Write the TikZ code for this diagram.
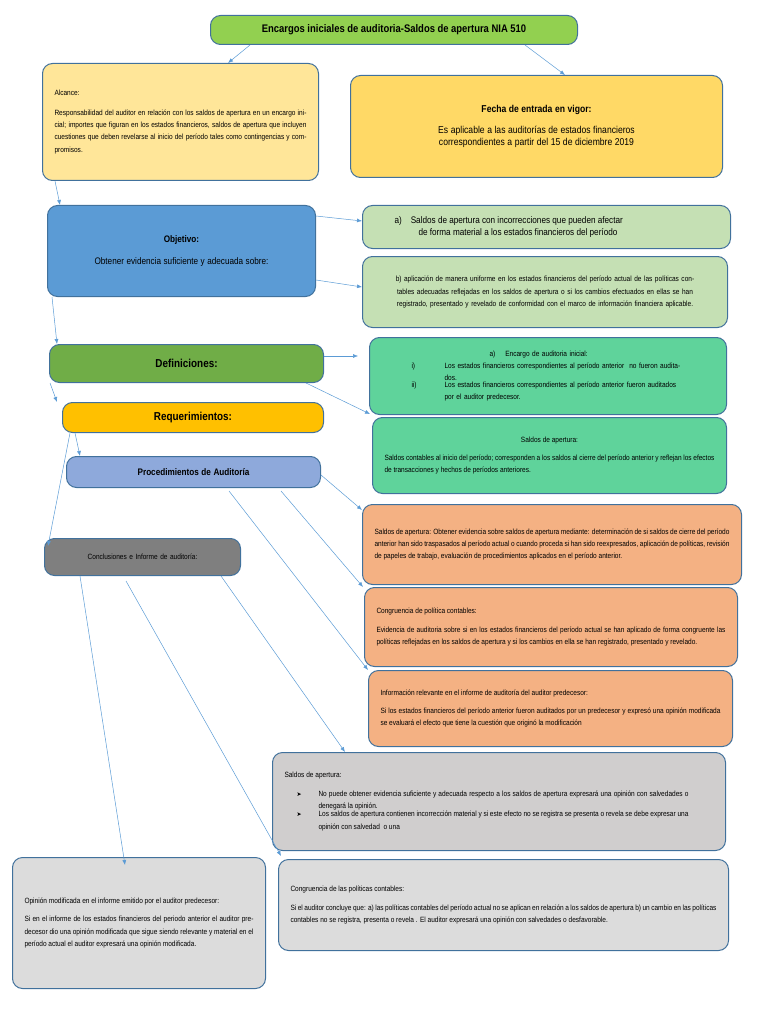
\documentclass[tikz,border=0pt]{standalone}
\usepackage{fontspec}
\setmainfont{Liberation Sans}[FakeStretch=0.86]
\newfontfamily\djv{DejaVu Sans}
\usetikzlibrary{arrows.meta}
\definecolor{arr}{HTML}{5B9BD5}
\definecolor{edge}{HTML}{41719C}
\definecolor{cTitle}{HTML}{92D050}
\definecolor{cAlc}{HTML}{FFE699}
\definecolor{cFecha}{HTML}{FFD966}
\definecolor{cObj}{HTML}{5B9BD5}
\definecolor{cLG}{HTML}{C5E0B4}
\definecolor{cDef}{HTML}{70AD47}
\definecolor{cTeal}{HTML}{5FD39B}
\definecolor{cReq}{HTML}{FFC000}
\definecolor{cProc}{HTML}{8EA9DB}
\definecolor{cConc}{HTML}{7F7F7F}
\definecolor{cOr}{HTML}{F4B183}
\definecolor{cG1}{HTML}{D0CECE}
\definecolor{cG2}{HTML}{DCDCDC}
\tikzset{
 box/.style={draw=edge,line width=1pt,rounded corners=10pt,anchor=north west,inner sep=0pt,font=\fontsize{7.6}{12.4}\selectfont,align=justify},
 conn/.style={draw=arr,line width=0.5pt,-{Latex[length=5pt,width=4pt]}}
}
\newcommand{\bx}[8]{% name, x1,y1,x2,y2, fill, align, text
 \pgfmathsetmacro\bw{#4-#2}\pgfmathsetmacro\bh{#5-#3}\pgfmathsetmacro\tw{#4-#2-24}%
 \node[box,fill=#6,minimum width=\bw pt,minimum height=\bh pt] (#1) at (#2,#3) {};
 \node[font=\fontsize{7.6}{12.4}\selectfont,text width=\tw pt,align=#7,inner sep=0pt] at (#1.center) {#8};}
\newcommand{\tri}{{\djv\fontsize{6}{8}\selectfont ➤}}
\begin{document}
\begin{tikzpicture}[x=1pt,y=-1pt]
\useasboundingbox (0,0) rectangle (768,1024);
\bx{title}{210}{15}{577}{44}{cTitle}{center}{\fontsize{11}{13}\selectfont\bfseries Encargos iniciales de auditoria-Saldos de apertura NIA 510}
\bx{alc}{42}{63}{318}{180}{cAlc}{justify}{Alcance:\\[7pt]Responsabilidad del auditor en relación con los saldos de apertura en un encargo inicial; importes que figuran en los estados financieros, saldos de apertura que incluyen cuestiones que deben revelarse al inicio del período tales como contingencias y compromisos.}
\bx{fecha}{350}{75}{722}{177}{cFecha}{center}{\fontsize{10}{13}\selectfont\textbf{Fecha de entrada en vigor:}\\[8pt]Es aplicable a las auditorías de estados financieros correspondientes a partir del 15 de diciembre 2019}
\bx{obj}{47}{205}{315}{296}{cObj}{center}{\fontsize{9.5}{12}\selectfont\textbf{Objetivo:}\\[9pt]Obtener evidencia suficiente y adecuada sobre:}
\bx{oa}{362}{205}{730}{248}{cLG}{justify}{\fontsize{9.5}{12.5}\selectfont\hspace*{20pt}a)\hspace{9pt}Saldos de apertura con incorrecciones que pueden afectar\\\hspace*{44pt}de forma material a los estados financieros del período}
\bx{ob}{362}{256}{727}{327}{cLG}{center}{b) aplicación de manera uniforme en los estados financieros del período actual de las políticas contables adecuadas reflejadas en los saldos de apertura o si los cambios efectuados en ellas se han registrado, presentado y revelado de conformidad con el marco de información financiera aplicable.}
\bx{def}{49}{344}{323}{382}{cDef}{center}{\fontsize{11.5}{13}\selectfont\bfseries Definiciones:}
\bx{da}{369}{337}{726}{414}{cTeal}{left}{\hspace*{108pt}a)\hspace{10pt}Encargo de auditoria inicial:\\
\hspace*{30pt}\makebox[33pt][l]{i)}\parbox[t]{240pt}{Los estados financieros correspondientes al período anterior\ \ no fueron auditados.}\\
\hspace*{30pt}\makebox[33pt][l]{ii)}\parbox[t]{240pt}{Los estados financieros correspondientes al período anterior fueron auditados por el auditor predecesor.}}
\bx{ds}{372}{417}{726}{493}{cTeal}{justify}{\centerline{Saldos de apertura:}\\[6pt]Saldos contables al inicio del período; corresponden a los saldos al cierre del período anterior y reflejan los efectos de transacciones y hechos de períodos anteriores.}
\bx{req}{62}{402}{323}{432}{cReq}{center}{\fontsize{11.5}{13}\selectfont\bfseries Requerimientos:}
\bx{proc}{66}{456}{320}{487}{cProc}{center}{\fontsize{9.5}{12}\selectfont\bfseries Procedimientos de Auditoría}
\bx{conc}{44}{538}{240}{575}{cConc}{center}{Conclusiones e Informe de auditoría:}
\bx{or1}{362}{504}{741}{584}{cOr}{justify}{Saldos de apertura: Obtener evidencia sobre saldos de apertura mediante: determinación de si saldos de cierre del período anterior han sido traspasados al período actual o cuando proceda si han sido reexpresados, aplicación de políticas, revisión de papeles de trabajo, evaluación de procedimientos aplicados en el período anterior.}
\bx{or2}{364}{587}{737}{666}{cOr}{justify}{Congruencia de política contables:\\[6pt]Evidencia de auditoria sobre si en los estados financieros del período actual se han aplicado de forma congruente las políticas reflejadas en los saldos de apertura y si los cambios en ella se han registrado, presentado y revelado.}
\bx{or3}{368}{670}{732}{746}{cOr}{justify}{Información relevante en el informe de auditoría del auditor predecesor:\\[6pt]Si los estados financieros del período anterior fueron auditados por un predecesor y expresó una opinión modificada se evaluará el efecto que tiene la cuestión que originó la modificación}
\bx{g1}{272}{752}{725}{850}{cG1}{justify}{Saldos de apertura:\\[6pt]
\hspace*{12pt}\makebox[22pt][l]{\tri}\parbox[t]{370pt}{\setlength\parfillskip{0pt plus 1fil}No puede obtener evidencia suficiente y adecuada respecto a los saldos de apertura expresará una opinión con salvedades o denegará la opinión.}\\
\hspace*{12pt}\makebox[22pt][l]{\tri}\parbox[t]{370pt}{Los saldos de apertura contienen incorrección material y si este efecto no se registra se presenta o revela se debe expresar una opinión con salvedad\ \ o una}}
\bx{g2}{278}{859}{728}{950}{cG2}{justify}{Congruencia de las políticas contables:\\[6pt]Si el auditor concluye que: a) las políticas contables del período actual no se aplican en relación a los saldos de apertura b) un cambio en las políticas contables no se registra, presenta o revela . El auditor expresará una opinión con salvedades o desfavorable.}
\bx{g3}{12}{857}{265}{988}{cG2}{justify}{Opinión modificada en el informe emitido por el auditor predecesor:\\[6pt]Si en el informe de los estados financieros del periodo anterior el auditor predecesor dio una opinión modificada que sigue siendo relevante y material en el período actual el auditor expresará una opinión modificada.}
% connectors
\draw[conn] ([xshift=40pt]title.south west) -- ([xshift=186pt]alc.north west);
\draw[conn] ([xshift=315pt]title.south west) -- ([xshift=215pt]fecha.north west);
\draw[conn] ([xshift=13pt]alc.south west) -- ([xshift=13pt]obj.north west);
\draw[conn] ([yshift=-11pt]obj.north east) -- ([yshift=-16pt]oa.north west);
\draw[conn] ([yshift=-75pt]obj.north east) -- ([yshift=-31pt]ob.north west);
\draw[conn] ([xshift=5pt]obj.south west) -- ([xshift=8pt]def.north west);
\draw[conn] ([yshift=-12pt]def.north east) -- ([xshift=-11pt,yshift=-19pt]da.north west);
\draw[conn] ([xshift=-18pt]def.south east) -- ([xshift=-2pt,yshift=3pt]ds.north west);
\draw[conn] ([xshift=1pt]def.south west) -- ([xshift=-5pt]req.north west);
\draw[conn] ([xshift=8pt]req.south west) -- ([xshift=4pt,yshift=-8pt]conc.north west);
\draw[conn] ([xshift=13pt]req.south west) -- ([xshift=14pt]proc.north west);
\draw[conn] ([yshift=-19pt]proc.north east) -- ([yshift=-6pt]or1.north west);
\draw[conn] ([xshift=-40pt,yshift=-3pt]proc.south east) -- ([xshift=-1pt]or2.north west);
\draw[conn] ([xshift=-92pt,yshift=-3pt]proc.south east) -- (or3.north west);
\draw[conn] ([xshift=36pt]conc.south west) -- ([xshift=113pt,yshift=-8pt]g3.north west);
\draw[conn] ([xshift=82pt,yshift=-5pt]conc.south west) -- ([xshift=3pt,yshift=3pt]g2.north west);
\draw[conn] ([xshift=-20pt]conc.south east) -- ([xshift=73pt]g1.north west);
\end{tikzpicture}
\end{document}
